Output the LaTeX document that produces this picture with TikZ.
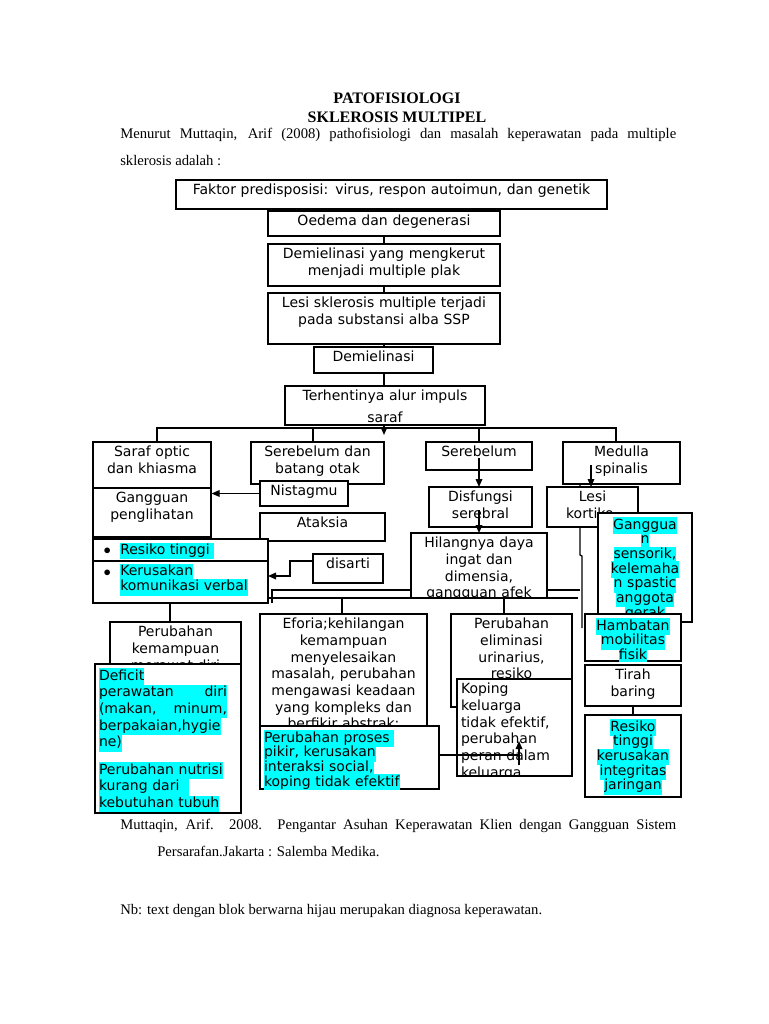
\documentclass[tikz,border=0pt]{standalone}
\usepackage{fontspec}
\setmainfont{Liberation Serif}
\newfontfamily\dv{DejaVu Sans}
\usetikzlibrary{fit,arrows.meta}
\definecolor{hl}{HTML}{00FFFF}
\newcommand\hl[1]{{\setlength\fboxsep{0pt}\colorbox{hl}{\strut #1}}}
\newcommand\hlj[2]{{\setlength\fboxsep{0pt}\colorbox{hl}{\makebox[#1][s]{\strut #2}}}}
\newcommand\bx[7]{%
 \path (#2,#3) coordinate (#1-nw) (#4,#5) coordinate (#1-se);
 \node[draw,fill=white,fit=(#1-nw)(#1-se),inner sep=0pt,line width=0.9pt] (#1) {};
 \pgfmathsetlengthmacro\tw{(#4-#2-8)*0.75pt}
 \begin{scope}\clip (#1-nw) rectangle (#1-se);
 \node[anchor=north,text width=\tw,inner sep=0pt,#6] at ([yshift=-3.5pt]#1.north) {#7};
 \end{scope}}
\begin{document}
\begin{tikzpicture}[x=0.75pt,y=-0.75pt,
  every node/.style={font=\dv\fontsize{10.5}{12.5}\selectfont},
  arr/.style={-{Triangle[length=6pt,width=5pt]},line width=0.9pt},
  ln/.style={line width=0.9pt},
  ser/.style={font=\rmfamily\fontsize{11}{20}\selectfont,anchor=north west,inner sep=0pt}]
\useasboundingbox (0,0) rectangle (768,1024);
\node[font=\bfseries\fontsize{12}{14}\selectfont] (ti1) at (397,98) {PATOFISIOLOGI};
\node[font=\bfseries\fontsize{12}{14}\selectfont] (ti2) at (397,117) {SKLEROSIS MULTIPEL};
\node[ser,align=left] (par) at (120,128) {\makebox[417pt][s]{Menurut Muttaqin, Arif (2008) pathofisiologi dan masalah keperawatan pada multiple}\\[0pt]sklerosis adalah :};
% connectors first
\draw[ln] (384,373) -- (384,386);
\draw[ln] (157,442) -- (157,428) -- (616,428) -- (616,442);
\draw[ln] (313,428) -- (313,442);
\draw[ln] (479,428) -- (479,442);
\draw[arr] (384,420) -- (384,435);
\draw[ln] (272,603) -- (272,590) -- (580,590);
\draw[ln] (170,622) -- (170,598) -- (578,598);
\draw[ln] (342,598) -- (342,614);
\draw[ln] (504,598) -- (504,614);
\draw[ln] (580,484) -- (580,555) -- (582,556) -- (582,628);
\draw[ln] (384,209) -- (384,244);
\draw[ln] (384,286) -- (384,347);
\bx{b1}{176}{180}{607}{209}{align=center}{Faktor predisposisi: virus, respon autoimun, dan genetik}
\bx{b2}{268}{211}{500}{236}{align=center}{Oedema dan degenerasi}
\bx{b3}{268}{244}{500}{286}{align=center}{Demielinasi yang mengkerut\\menjadi multiple plak}
\bx{b4}{268}{293}{500}{344}{align=center}{Lesi sklerosis multiple terjadi\\pada substansi alba SSP}
\bx{b5}{314}{347}{433}{373}{align=center}{Demielinasi}
\bx{b6}{285}{386}{485}{425}{align=center}{Terhentinya alur impuls\\[4pt]saraf}
\bx{c1}{93}{442}{211}{489}{align=center}{Saraf optic\\dan khiasma}
\bx{c2}{251}{442}{384}{484}{align=center}{Serebelum dan\\batang otak}
\bx{c3}{426}{442}{532}{470}{align=center}{Serebelum}
\bx{c4}{563}{442}{680}{484}{align=center}{Medulla\\spinalis}
\bx{d1}{93}{488}{211}{537}{align=center}{Gangguan\\penglihatan}
\bx{d2}{260}{481}{348}{506}{align=center}{Nistagmu}
\bx{d3}{260}{513}{385}{541}{align=center}{Ataksia}
\bx{d4}{429}{487}{532}{527}{align=center}{Disfungsi\\serebral}
\bx{d5}{547}{487}{638}{527}{align=center}{Lesi\\kortiko-}
\bx{e1}{93}{539}{268}{603}{align=left}{}
\draw[ln] (93,561) -- (268,561);
\node[anchor=west] (bu1) at (99,551) {$\bullet$};
\node[anchor=west] (bu2) at (99,573) {$\bullet$};
\node[anchor=west,inner sep=0pt] (e1a) at (120,551) {\hl{Resiko tinggi\ }};
\node[anchor=north west,inner sep=0pt,align=left] (e1b) at (120,564) {\hl{Kerusakan}\\[-1.5pt]\hl{komunikasi verbal}};
\bx{e2}{313}{554}{383}{583}{align=center}{disarti}
\bx{e3}{411}{533}{547}{598}{align=center}{Hilangnya daya\\ingat dan\\dimensia,\\gangguan afek}
\bx{e4}{598}{513}{692}{622}{align=center}{\hl{Ganggua}\\[-1.5pt]\hl{n}\\[-1.5pt]\hl{sensorik,}\\[-1.5pt]\hl{kelemaha}\\[-1.5pt]\hl{n spastic}\\[-1.5pt]\hl{anggota}\\[-1.5pt]\hl{gerak}}
\draw[arr] (d2.west) -- (d1.east|-d2.west);
\draw[arr] (313,561) -- (290,561) -- (290,576) -- (268,576);
\draw[arr] (479,458) -- (479,487);
\draw[arr] (479,510) -- (479,533);
\draw[arr] (591,465) -- (591,487);
\bx{f1}{110}{622}{241}{665}{align=center}{Perubahan\\kemampuan\\merawat diri}
\bx{f2}{95}{664}{241}{813}{align=left}{\hl{Deficit}\\[0pt]\hlj{96pt}{perawatan\hfill diri}\\[0pt]\hlj{96pt}{(makan,\hfill minum,}\\[0pt]\hl{berpakaian,hygie}\\[0pt]\hl{ne)}\\[8pt]\hl{Perubahan nutrisi}\\[0pt]\hl{kurang dari\ \ }\\[0pt]\hl{kebutuhan tubuh}}
\bx{f3}{260}{614}{427}{789}{align=center}{Eforia;kehilangan\\kemampuan\\menyelesaikan\\masalah, perubahan\\mengawasi keadaan\\yang kompleks dan\\berfikir abstrak;}
\bx{f4}{260}{726}{439}{789}{align=left}{\hl{Perubahan proses\ }\\[-1.5pt]\hl{pikir, kerusakan}\\[-1.5pt]\hl{interaksi social,}\\[-1.5pt]\hl{koping tidak efektif}}
\bx{f5}{451}{614}{572}{707}{align=center}{Perubahan\\eliminasi\\urinarius,\\resiko\\infeksi}
\bx{f6}{457}{679}{572}{776}{align=left}{Koping\\keluarga\\tidak efektif,\\perubahan\\peran dalam\\keluarga}
\bx{g1}{585}{614}{681}{661}{align=center}{\hl{Hambatan}\\[-1.5pt]\hl{mobilitas}\\[-1.5pt]\hl{fisik}}
\bx{g2}{585}{665}{681}{706}{align=center}{Tirah\\baring}
\bx{g3}{585}{715}{681}{797}{align=center}{\hl{Resiko}\\[-1.5pt]\hl{tinggi}\\[-1.5pt]\hl{kerusakan}\\[-1.5pt]\hl{integritas}\\[-1.5pt]\hl{jaringan}}
\draw[ln] (g2.south) -- (g3.north);
\draw[ln] (f4.east|-0,755) -- (519,755);
\draw[arr] (519,765) -- (519,741);
\node[ser] (ref1) at (120,819) {\makebox[417pt][s]{Muttaqin, Arif. 2008. Pengantar Asuhan Keperawatan Klien dengan Gangguan Sistem}};
\node[ser] (ref2) at (157,846) {Persarafan.Jakarta : Salemba Medika.};
\node[ser] (nb) at (120,904) {Nb: text dengan blok berwarna hijau merupakan diagnosa keperawatan.};
\end{tikzpicture}
\end{document}
